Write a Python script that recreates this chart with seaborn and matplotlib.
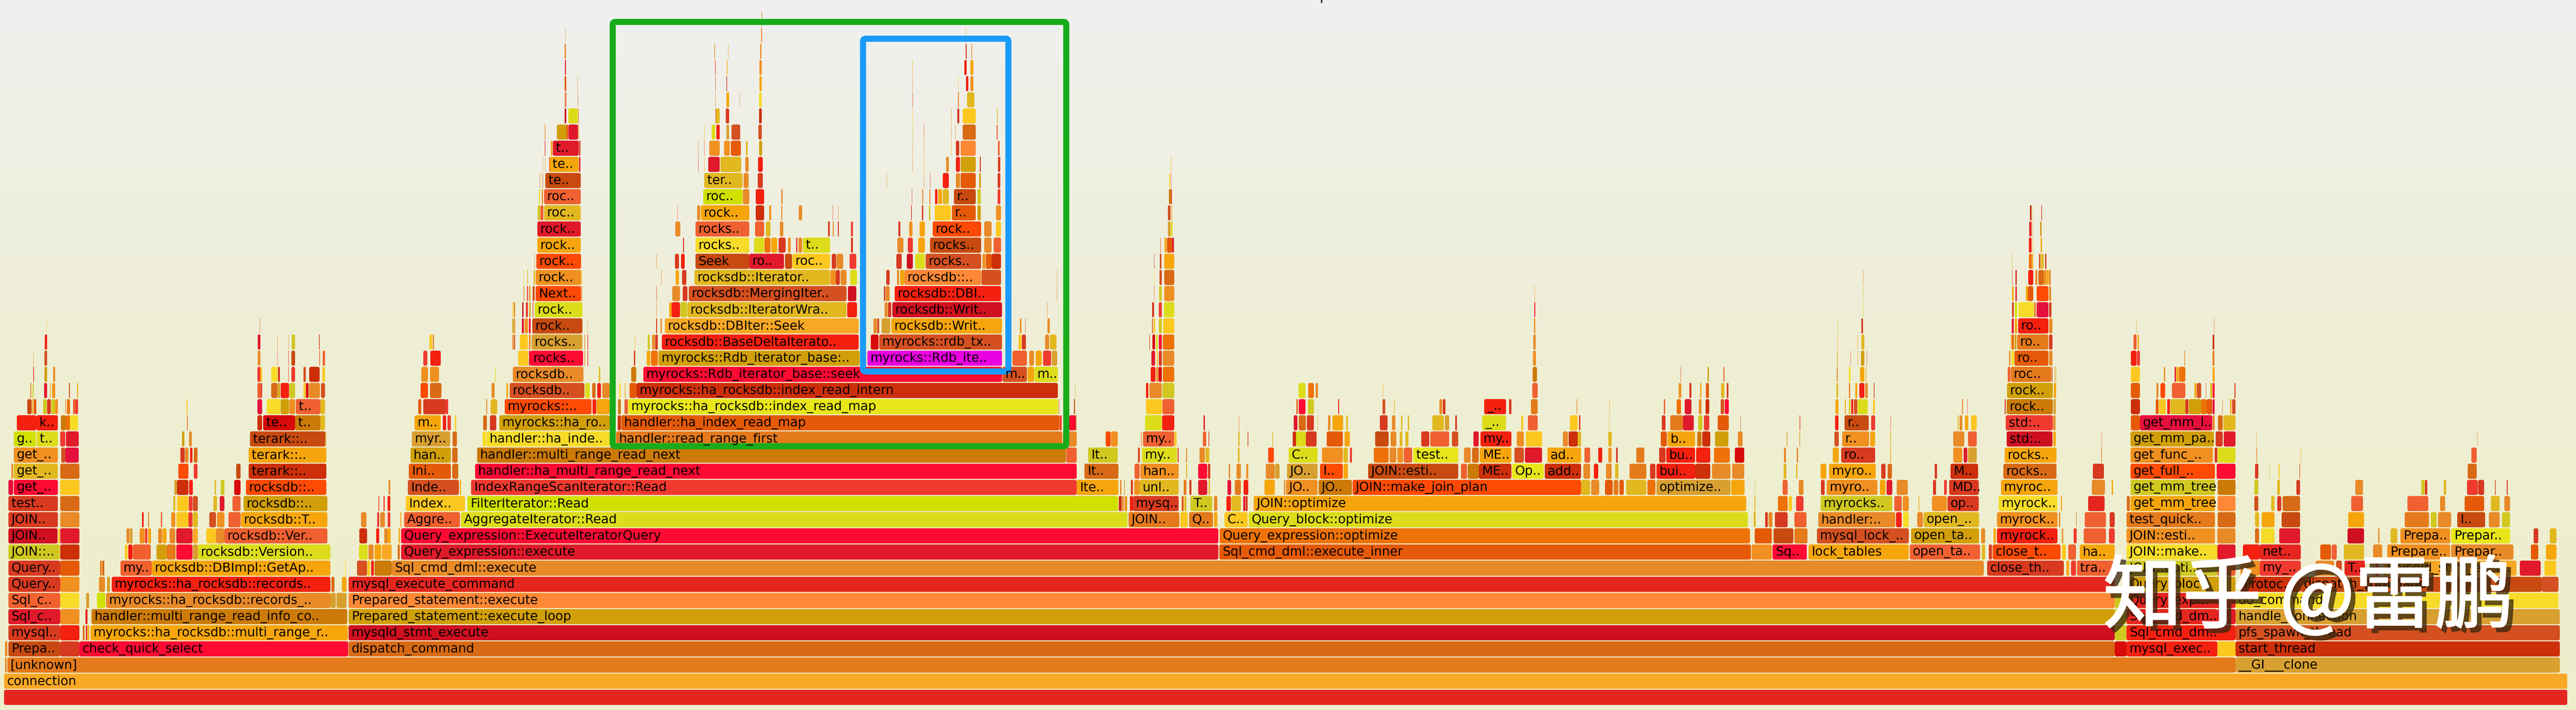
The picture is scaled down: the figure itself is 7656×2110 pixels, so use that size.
import numpy as np
import matplotlib
matplotlib.use("Agg")
import matplotlib.pyplot as plt
import matplotlib.patheffects as pe
from matplotlib.patches import FancyBboxPatch
import seaborn as sns

# heat shades used by the frames
heat = {
    "r1": "#e5261f", "r2": "#ff0a33", "r3": "#cf1020", "r4": "#cd2f0a", "r5": "#e01a2a",
    "r6": "#f42010", "r7": "#d83a20", "r8": "#f03a30", "r9": "#d80a0a", "p1": "#e6103c",
    "o1": "#d96a15", "o2": "#e57a1c", "o3": "#f9a825", "o4": "#fe8835", "o5": "#e88a28",
    "o6": "#e55a08", "o7": "#fd4a05", "o8": "#f06030", "o9": "#d55020", "o0": "#c84a10",
    "ok": "#cc7a08", "oa": "#f09020", "ob": "#ee7208",
    "y1": "#d19f0a", "y2": "#e8e618", "y3": "#d2e000", "y4": "#dcdc1a", "y5": "#e2b820",
    "y6": "#f6dc28", "y7": "#f6a60c", "y8": "#fcc820", "y9": "#d0c820", "y0": "#d8a030",
    "m1": "#e800e0",
}

# (level, start, stop, shade, label)
base_frames = [
    (0, 12, 7630, "r1"), (1, 12, 7630, "o3", "connection"),
    (2, 15, 20, "o5"), (2, 22, 6644, "o2", "[unknown]"), (2, 6644, 7608, "y0", "__GI___clone"),
    (3, 15, 22, "o5"), (3, 25, 179, "o0", "Prepa.."), (3, 179, 236, "r7"),
    (3, 236, 1035, "r2", "check_quick_select"), (3, 1036, 6285, "o1", "dispatch_command"),
    (3, 6285, 6320, "r9"), (3, 6320, 6590, "r6", "mysql_exec.."), (3, 6590, 6644, "y8"),
    (3, 6644, 7608, "r4", "start_thread"),
    (4, 25, 179, "r7", "mysql.."), (4, 179, 236, "r6"), (4, 246, 251, "o1"), (4, 255, 259, "r1"), (4, 260, 265, "y7"),
    (4, 269, 1034, "y7", "myrocks::ha_rocksdb::multi_range_r.."), (4, 1036, 6285, "r3", "mysqld_stmt_execute"),
    (4, 6285, 6320, "y9"), (4, 6320, 6644, "r6", "Sql_cmd_dm.."), (4, 6644, 7608, "o9", "pfs_spawn_thread"),
    (5, 25, 179, "r5", "Sql_c.."), (5, 179, 236, "oa"), (5, 254, 260, "r1"),
    (5, 272, 1032, "ok", "handler::multi_range_read_info_co.."), (5, 1036, 6285, "y1", "Prepared_statement::execute_loop"),
    (5, 6285, 6320, "y9"), (5, 6320, 6590, "r1", "Sql_cmd_dm.."), (5, 6590, 6644, "r5"), (5, 6644, 7608, "y0", "handle_connection"),
    (6, 25, 179, "o8", "Sql_c.."), (6, 179, 236, "y6"), (6, 256, 265, "y0"), (6, 288, 313, "y3"),
    (6, 315, 982, "o5", "myrocks::ha_rocksdb::records_.."), (6, 982, 998, "y0"), (6, 1000, 1030, "y0"),
    (6, 1036, 6285, "o4", "Prepared_statement::execute"), (6, 6285, 6320, "y9"),
    (6, 6320, 6644, "r1", "Query_expr.."), (6, 6644, 7604, "y6", "do_command"),
    (7, 25, 179, "r7", "Query.."), (7, 179, 236, "oa"), (7, 294, 312, "o5"), (7, 318, 327, "y0"),
    (7, 332, 982, "r6", "myrocks::ha_rocksdb::records.."), (7, 985, 994, "o1"), (7, 1016, 1030, "y7"),
    (7, 1036, 6285, "r1", "mysql_execute_command"), (7, 6320, 6644, "y1", "Query_bloc.."),
    (7, 6659, 6838, "r4", "Protoc.."), (7, 6838, 7554, "o0", "dispatch_command"), (7, 7554, 7604, "o9"),
    (8, 25, 179, "r7", "Query.."), (8, 179, 236, "o6"), (8, 297, 303, "o5"), (8, 304, 310, "o1"),
    (8, 358, 451, "o8", "my.."), (8, 451, 982, "y7", "rocksdb::DBImpl::GetAp.."), (8, 1026, 1028, "y6"),
    (8, 1061, 1091, "o9"), (8, 1092, 1100, "y8"), (8, 1103, 1111, "r6"), (8, 1113, 1164, "ok"),
    (8, 1164, 5896, "o5", "Sql_cmd_dml::execute"), (8, 5906, 6134, "r7", "close_th.."),
    (8, 6141, 6150, "o3"), (8, 6155, 6170, "r8"), (8, 6173, 6285, "o8", "tra.."), (8, 6320, 6590, "y9", "JOIN::opti.."),
    (8, 6590, 6644, "o8"), (8, 6659, 6716, "oa"), (8, 6716, 6838, "r8", "my_.."), (8, 6882, 6937, "o5"),
    (8, 6943, 6960, "o9"), (8, 6968, 7029, "r1", "T.."), (8, 7050, 7056, "oa"), (8, 7060, 7070, "r8"),
    (8, 7084, 7479, "o3", "mysqld_stmt_exec.."), (8, 7489, 7551, "r5"), (8, 7562, 7597, "y8"),
]

left_tower = [
    (9, 25, 178, "y9", "JOIN::.."), (9, 179, 236, "r4"), (10, 25, 171, "r3", "JOIN.."), (10, 173, 178, "y8"), (10, 179, 236, "r5"),
    (11, 25, 172, "r7", "JOIN.."), (11, 179, 236, "o5"), (12, 25, 172, "r7", "test.."), (12, 179, 236, "o1"),
    (13, 25, 39, "p1"), (13, 41, 172, "r2", "get_.."), (13, 179, 236, "y8"),
    (14, 34, 39, "o5"), (14, 41, 172, "y5", "get_.."), (14, 179, 236, "o1"),
    (15, 41, 172, "oa", "get_.."), (15, 182, 194, "o9"), (15, 194, 234, "p1"),
    (16, 41, 107, "y3", "g.."), (16, 109, 172, "y4", "t.."), (16, 179, 194, "r8"), (16, 196, 234, "r5"),
    (17, 50, 108, "r6"), (17, 108, 172, "r6", "k.."), (17, 181, 196, "ok"), (17, 196, 208, "ob"), (17, 208, 232, "y6"),
    (18, 81, 94, "o0"), (18, 95, 98, "y7"), (18, 100, 108, "o6"), (18, 128, 139, "y9"), (18, 140, 151, "r7"),
    (18, 152, 164, "y9"), (18, 164, 172, "oa"), (18, 194, 196, "o5"), (18, 199, 208, "ob"), (18, 217, 225, "o8"), (18, 225, 232, "r8"),
    (19, 90, 93, "o5"), (19, 97, 100, "y9"), (19, 131, 140, "r5"), (19, 149, 151, "y7"), (19, 155, 164, "oa"),
    (19, 205, 208, "o9"), (19, 229, 232, "y7"),
    (20, 99, 101, "r6"), (20, 132, 140, "y1"), (20, 158, 164, "o5"), (21, 99, 100, "y0"), (21, 132, 140, "o9"),
    (22, 133, 140, "r6"), (23, 138, 139, "y8"),
]

terark_tower = [
    (9, 371, 379, "y8"), (9, 381, 394, "r6"), (9, 395, 448, "o8"), (9, 465, 495, "y1"), (9, 495, 522, "o2"),
    (9, 524, 572, "r2"), (9, 573, 588, "y0"), (9, 588, 982, "y4", "rocksdb::Version.."),
    (10, 376, 385, "o5"), (10, 386, 394, "y0"), (10, 415, 430, "oa"), (10, 431, 438, "r8"), (10, 440, 449, "y7"),
    (10, 470, 482, "o5"), (10, 483, 495, "y7"), (10, 504, 521, "o5"), (10, 524, 572, "r5"), (10, 573, 588, "o3"),
    (10, 613, 642, "y8"), (10, 642, 667, "o5"), (10, 667, 973, "o8", "rocksdb::Ver.."),
    (11, 422, 427, "r6"), (11, 440, 443, "o5"), (11, 478, 482, "o8"), (11, 509, 521, "oa"), (11, 524, 560, "y8"),
    (11, 560, 572, "r8"), (11, 573, 588, "y5"), (11, 622, 642, "o9"), (11, 645, 667, "oa"), (11, 679, 715, "o8"),
    (11, 716, 973, "y7", "rocksdb::T.."),
    (12, 515, 521, "y5"), (12, 526, 560, "y8"), (12, 561, 572, "r8"), (12, 573, 588, "o9"), (12, 634, 645, "y5"),
    (12, 653, 667, "r5"), (12, 691, 715, "o8"), (12, 724, 973, "y1", "rocksdb::.."),
    (13, 518, 526, "y0"), (13, 526, 560, "r4"), (13, 562, 573, "r6"), (13, 638, 642, "y5"), (13, 656, 667, "y9"),
    (13, 696, 715, "r9"), (13, 731, 970, "o7", "rocksdb::.."),
    (14, 530, 560, "o7"), (14, 576, 587, "r8"), (14, 702, 715, "o0"), (14, 739, 970, "r4", "terark::.."),
    (15, 536, 549, "r7"), (15, 550, 560, "o5"), (15, 565, 572, "r6"), (15, 576, 587, "o1"), (15, 739, 970, "y7", "terark::.."),
    (16, 541, 548, "y1"), (16, 562, 570, "o5"), (16, 743, 967, "o0", "terark::.."), (16, 968, 970, "y5"),
    (17, 556, 558, "o6"), (17, 765, 779, "r4"), (17, 782, 877, "r9", "te.."), (17, 877, 952, "ok", "t.."), (17, 952, 966, "y5"),
    (18, 554, 557, "y8"), (18, 765, 779, "p1"), (18, 793, 833, "y6"), (18, 834, 859, "y1"), (18, 860, 877, "oa"),
    (18, 879, 952, "o8", "t.."), (18, 952, 966, "y5"),
    (19, 765, 775, "o8"), (19, 775, 779, "r8"), (19, 806, 825, "o1"), (19, 826, 832, "y1"), (19, 834, 859, "r6"),
    (19, 860, 877, "y9"), (19, 902, 908, "y8"), (19, 909, 917, "r9"), (19, 918, 951, "o5"), (19, 954, 966, "o9"),
    (20, 765, 774, "r8"), (20, 774, 779, "y8"), (20, 806, 825, "y6"), (20, 826, 832, "r7"), (20, 857, 858, "r6"),
    (20, 866, 877, "r8"), (20, 902, 909, "o9"), (20, 919, 950, "r4"), (20, 958, 966, "y8"),
    (21, 766, 774, "o5"), (21, 824, 825, "o8"), (21, 857, 858, "r6"), (21, 866, 877, "o0"), (21, 949, 951, "o8"), (21, 959, 966, "o8"),
    (22, 766, 774, "r5"), (22, 824, 825, "o5"), (22, 858, 859, "o5"), (22, 867, 877, "y9"), (22, 948, 950, "r7"), (23, 772, 773, "o7"),
    (9, 1067, 1093, "y4"), (9, 1095, 1110, "o5"), (9, 1113, 1133, "y7"), (9, 1135, 1164, "o3"),
    (10, 1068, 1091, "r4"), (10, 1118, 1127, "r6"), (10, 1142, 1152, "o5"), (10, 1152, 1161, "y7"),
    (11, 1073, 1089, "o5"), (11, 1121, 1127, "r8"), (11, 1130, 1144, "o5"), (11, 1152, 1160, "r8"),
    (12, 1125, 1127, "r6"), (12, 1140, 1143, "r6"), (12, 1152, 1160, "r6"), (13, 1155, 1160, "o5"),
]

rocks_tower = [
    (9, 1182, 1188, "o1"), (9, 1192, 3621, "r5", "Query_expression::execute"),
    (10, 1185, 1189, "y7"), (10, 1192, 3621, "r2", "Query_expression::ExecuteIteratorQuery"),
    (11, 1190, 1193, "o3"), (11, 1201, 1367, "o8", "Aggre.."), (11, 1370, 3351, "y4", "AggregateIterator::Read"),
    (12, 1206, 1382, "y8", "Index.."), (12, 1389, 3323, "y3", "FilterIterator::Read"),
    (13, 1212, 1364, "o9", "Inde.."), (13, 1367, 1370, "y7"), (13, 1400, 3200, "r8", "IndexRangeScanIterator::Read"),
    (14, 1215, 1340, "o6", "Ini.."), (14, 1344, 1362, "o1"), (14, 1412, 3200, "r2", "handler::ha_multi_range_read_next"),
    (15, 1220, 1340, "y1", "han.."), (15, 1344, 1360, "o1"), (15, 1418, 3168, "ok", "handler::multi_range_read_next"), (15, 3169, 3200, "o8"),
    (16, 1224, 1338, "y0", "myr.."), (16, 1345, 1358, "o1"), (16, 1434, 1445, "y6"), (16, 1446, 1812, "y6", "handler::ha_inde.."),
    (16, 1831, 3157, "o2", "handler::read_range_first"), (16, 3159, 3200, "o5"),
    (17, 1232, 1310, "y7", "m.."), (17, 1316, 1326, "r6"), (17, 1330, 1340, "r8"), (17, 1352, 1356, "y8"),
    (17, 1436, 1447, "o1"), (17, 1456, 1475, "r7"), (17, 1484, 1812, "y1", "myrocks::ha_ro.."),
    (18, 1243, 1252, "o6"), (18, 1258, 1325, "r7"), (18, 1325, 1332, "r8"), (18, 1445, 1448, "o5"), (18, 1458, 1478, "y5"),
    (18, 1500, 1758, "o7", "myrocks::.."), (18, 1761, 1772, "r6"), (18, 1773, 1812, "y7"),
    (19, 1250, 1272, "o7"), (19, 1278, 1312, "o1"), (19, 1461, 1470, "o5"), (19, 1505, 1510, "y7"),
    (19, 1515, 1737, "o9", "rocksdb.."), (19, 1739, 1753, "y4"), (19, 1760, 1770, "o1"), (19, 1775, 1786, "r6"), (19, 1790, 1812, "o5"),
    (20, 1252, 1272, "oa"), (20, 1278, 1305, "oa"), (20, 1472, 1474, "y4"), (20, 1524, 1734, "o5", "rocksdb.."), (20, 1780, 1784, "y5"),
    (21, 1550, 1556, "y5"), (21, 1258, 1270, "r8"), (21, 1279, 1310, "r6"), (21, 1540, 1570, "y8"),
    (21, 1572, 1576, "r5"), (21, 1576, 1733, "r2", "rocks.."), (21, 1737, 1739, "o5"), (21, 1746, 1748, "r8"),
    (22, 1276, 1284, "y8"), (22, 1523, 1527, "o5"), (22, 1528, 1531, "o9"), (22, 1545, 1569, "y8"), (22, 1572, 1577, "o5"),
    (22, 1580, 1731, "y0", "rocks.."), (22, 1737, 1739, "o5"), (22, 1746, 1748, "r8"), (22, 1286, 1290, "o5"),
    (23, 1523, 1527, "y1"), (23, 1528, 1531, "o5"), (23, 1551, 1557, "r5"), (23, 1559, 1569, "oa"), (23, 1572, 1577, "r2"),
    (23, 1582, 1731, "o0", "rock.."), (23, 1746, 1747, "y0"),
    (24, 1523, 1525, "y8"), (24, 1527, 1531, "o5"), (24, 1552, 1556, "r3"), (24, 1563, 1569, "r8"), (24, 1573, 1577, "y1"),
    (24, 1583, 1585, "r7"), (24, 1589, 1731, "y4", "rock.."),
    (25, 1556, 1558, "o5"), (25, 1566, 1569, "r8"), (25, 1572, 1574, "o8"), (25, 1575, 1577, "y5"), (25, 1583, 1589, "o9"),
    (25, 1592, 1727, "o7", "Next.."), (25, 1728, 1730, "o5"),
    (26, 1556, 1557, "y8"), (26, 1567, 1569, "y5"), (26, 1586, 1590, "y5"), (26, 1592, 1727, "oa", "rock.."), (26, 1728, 1730, "y8"),
    (27, 1589, 1590, "o5"), (27, 1594, 1727, "o7", "rock.."),
    (28, 1597, 1726, "y7", "rock.."), (29, 1597, 1726, "r5", "rock.."),
    (30, 1598, 1605, "y9"), (30, 1606, 1615, "o8"), (30, 1617, 1726, "y5", "roc.."),
    (31, 1602, 1605, "y4"), (31, 1610, 1614, "oa"), (31, 1617, 1726, "o8", "roc.."),
    (32, 1604, 1605, "o8"), (32, 1608, 1609, "y8"), (32, 1613, 1614, "r7"), (32, 1620, 1621, "y5"), (32, 1621, 1726, "o0", "te.."),
    (33, 1613, 1614, "y0"), (33, 1620, 1621, "o5"), (33, 1632, 1633, "r5"), (33, 1633, 1720, "y7", "te.."), (33, 1721, 1725, "r5"),
    (34, 1619, 1621, "r8"), (34, 1637, 1642, "o3"), (34, 1643, 1720, "r5", "t.."), (34, 1721, 1725, "r7"),
    (35, 1619, 1621, "o5"), (35, 1655, 1683, "y1"), (35, 1683, 1688, "o6"), (35, 1689, 1718, "r5"), (35, 1719, 1721, "y5"),
    (36, 1678, 1683, "r3"), (36, 1689, 1718, "y4"), (36, 1719, 1720, "r1"),
    (37, 1678, 1680, "o5"), (37, 1681, 1683, "r7"), (37, 1717, 1718, "o8"), (38, 1678, 1683, "o6"), (38, 1716, 1717, "y0"),
    (39, 1679, 1682, "r5"), (40, 1678, 1682, "o5"), (41, 1680, 1681, "y0"),
]

green_box_frames = [
    (17, 1836, 1845, "r4"), (17, 1846, 3149, "o6", "handler::ha_index_read_map"), (17, 3150, 3155, "r6"), (17, 3178, 3197, "r9"),
    (18, 1837, 1845, "ok"), (18, 1856, 1866, "o8"), (18, 1867, 3144, "y2", "myrocks::ha_rocksdb::index_read_map"), (18, 3146, 3148, "o5"), (18, 3192, 3195, "r7"),
    (19, 1841, 1845, "y6"), (19, 1857, 1859, "y7"), (19, 1871, 1892, "o6"), (19, 1892, 3144, "r4", "myrocks::ha_rocksdb::index_read_intern"), (19, 3195, 3196, "y0"),
    (20, 1876, 1891, "ok"), (20, 1912, 2978, "r2", "myrocks::Rdb_iterator_base::seek"), (20, 2979, 3052, "o9", "m.."), (20, 3054, 3073, "y7"), (20, 3074, 3144, "y4", "m.."),
    (21, 1884, 1888, "r7"), (21, 1922, 1933, "y7"), (21, 1935, 1955, "ob"), (21, 1957, 2555, "y1", "myrocks::Rdb_iterator_base:.."),
    (21, 2559, 2575, "y5"), (21, 2578, 2978, "m1", "myrocks::Rdb_ite.."), (21, 3009, 3052, "o8"), (21, 3059, 3073, "o5"), (21, 3078, 3096, "y7"),
    (21, 3100, 3124, "r8"), (21, 3126, 3142, "y0"),
    (22, 1887, 1888, "y7"), (22, 1925, 1931, "y9"), (22, 1938, 1946, "o5"), (22, 1947, 1955, "r7"), (22, 1967, 2552, "r6", "rocksdb::BaseDeltaIterato.."),
    (22, 2588, 2611, "r9"), (22, 2613, 2978, "o9", "myrocks::rdb_tx.."), (22, 3027, 3036, "y8"), (22, 3037, 3049, "r7"), (22, 3106, 3118, "o5"), (22, 3120, 3140, "y5"),
    (23, 1950, 1953, "r7"), (23, 1963, 1967, "o5"), (23, 1976, 2552, "o3", "rocksdb::DBIter::Seek"), (23, 2596, 2606, "o5"), (23, 2607, 2613, "o9"),
    (23, 2620, 2646, "y0"), (23, 2649, 2978, "y7", "rocksdb::Writ.."), (23, 3031, 3036, "oa"), (23, 3047, 3048, "r7"), (23, 3113, 3120, "o5"),
    (24, 1951, 1952, "o5"), (24, 1989, 1996, "y7"), (24, 1996, 2021, "r6"), (24, 2022, 2042, "y9"), (24, 2043, 2516, "y5", "rocksdb::IteratorWra.."),
    (24, 2518, 2547, "r6"), (24, 2629, 2638, "o5"), (24, 2639, 2649, "r7"), (24, 2652, 2978, "r3", "rocksdb::Writ.."), (24, 3112, 3113, "o5"),
    (25, 1951, 1952, "r7"), (25, 1998, 2021, "o5"), (25, 2029, 2043, "r7"), (25, 2047, 2516, "o9", "rocksdb::MergingIter.."), (25, 2520, 2545, "r3"),
    (25, 2627, 2631, "r7"), (25, 2632, 2644, "o5"), (25, 2659, 2975, "r6", "rocksdb::DBI.."), (25, 3141, 3142, "o5"),
    (26, 1965, 1966, "o5"), (26, 2008, 2018, "y7"), (26, 2027, 2040, "r7"), (26, 2064, 2467, "y5", "rocksdb::Iterator.."), (26, 2468, 2484, "oa"),
    (26, 2484, 2496, "r7"), (26, 2498, 2516, "o5"), (26, 2527, 2547, "y4"), (26, 2634, 2644, "r7"), (26, 2666, 2672, "o5"), (26, 2675, 2688, "y7"),
    (26, 2688, 2916, "o4", "rocksdb::.."), (26, 2917, 2975, "o9"), (26, 3141, 3142, "y0"),
    (27, 1951, 1952, "o5"), (27, 2006, 2018, "r7"), (27, 2024, 2035, "r6"), (27, 2067, 2227, "o0", "Seek"), (27, 2227, 2330, "r5", "ro.."),
    (27, 2333, 2354, "o0"), (27, 2355, 2467, "y8", "roc.."), (27, 2472, 2485, "r7"), (27, 2486, 2506, "o5"), (27, 2525, 2545, "r8"),
    (27, 2664, 2680, "r7"), (27, 2695, 2713, "r3"), (27, 2720, 2749, "y4"), (27, 2751, 2916, "o9", "rocks.."), (27, 2920, 2929, "oa"),
    (27, 2930, 2947, "o6"), (27, 2947, 2975, "r4"),
    (28, 2030, 2033, "r7"), (28, 2067, 2227, "y6", "rocks.."), (28, 2241, 2271, "y4"), (28, 2272, 2290, "ob"), (28, 2292, 2310, "y7"),
    (28, 2314, 2335, "r7"), (28, 2342, 2350, "oa"), (28, 2366, 2370, "r8"), (28, 2373, 2384, "o5"), (28, 2386, 2467, "y4", "t.."),
    (28, 2529, 2535, "r7"), (28, 2667, 2685, "o5"), (28, 2698, 2713, "r8"), (28, 2729, 2749, "y7"), (28, 2764, 2916, "o0", "rocks.."),
    (28, 2925, 2947, "o5"), (28, 2953, 2975, "o8"),
    (29, 2007, 2022, "o5"), (29, 2067, 2227, "o8", "rocks.."), (29, 2244, 2271, "o8"), (29, 2276, 2290, "y5"), (29, 2318, 2328, "o5"),
    (29, 2461, 2466, "r7"), (29, 2475, 2478, "o5"), (29, 2490, 2493, "r7"), (29, 2529, 2535, "r8"), (29, 2670, 2676, "r7"), (29, 2702, 2712, "oa"),
    (29, 2733, 2749, "y7"), (29, 2772, 2916, "o7", "rock.."), (29, 2925, 2947, "o5"), (29, 2960, 2975, "y8"),
    (30, 2013, 2014, "o8"), (30, 2072, 2081, "o5"), (30, 2083, 2227, "y7", "rock.."), (30, 2246, 2271, "r4"), (30, 2286, 2292, "oa"), (30, 2322, 2325, "o5"),
    (30, 2374, 2384, "o5"), (30, 2475, 2476, "r7"), (30, 2491, 2492, "o5"), (30, 2708, 2710, "r7"), (30, 2740, 2744, "r7"), (30, 2761, 2765, "y9"),
    (30, 2778, 2826, "y8"), (30, 2829, 2900, "o6", "r.."), (30, 2905, 2915, "y1"), (30, 2960, 2975, "oa"),
    (31, 2090, 2207, "y3", "roc.."), (31, 2208, 2227, "o5"), (31, 2246, 2271, "r6"), (31, 2322, 2326, "o5"), (31, 2710, 2711, "r7"), (31, 2741, 2744, "o5"),
    (31, 2762, 2765, "o5"), (31, 2779, 2786, "r6"), (31, 2788, 2800, "y7"), (31, 2802, 2820, "y5"), (31, 2835, 2900, "o0", "r.."), (31, 2905, 2915, "y9"), (31, 2965, 2973, "r8"),
    (32, 2093, 2207, "y5", "ter.."), (32, 2210, 2225, "o5"), (32, 2252, 2267, "r7"), (32, 2635, 2636, "y0"), (32, 2746, 2747, "o5"), (32, 2764, 2765, "r7"),
    (32, 2802, 2820, "r6"), (32, 2841, 2853, "o5"), (32, 2855, 2900, "o6"), (32, 2910, 2915, "y1"), (32, 2965, 2973, "r7"),
    (33, 2075, 2076, "r7"), (33, 2093, 2094, "y5"), (33, 2105, 2139, "r5"), (33, 2141, 2203, "y5"), (33, 2215, 2225, "o5"), (33, 2253, 2267, "r6"),
    (33, 2712, 2713, "o5"), (33, 2746, 2747, "y5"), (33, 2812, 2820, "o5"), (33, 2841, 2853, "r6"), (33, 2855, 2900, "y1"), (33, 2912, 2915, "r7"), (33, 2966, 2973, "r7"),
    (34, 2075, 2076, "o5"), (34, 2093, 2094, "o8"), (34, 2108, 2139, "oa"), (34, 2152, 2169, "oa"), (34, 2172, 2202, "o6"), (34, 2217, 2222, "y5"),
    (34, 2256, 2265, "y1"), (34, 2712, 2713, "y0"), (34, 2746, 2747, "o5"), (34, 2827, 2828, "y5"), (34, 2841, 2851, "r7"), (34, 2855, 2900, "o4"), (34, 2966, 2971, "o8"),
    (35, 2093, 2094, "y5"), (35, 2115, 2126, "y4"), (35, 2129, 2139, "r6"), (35, 2159, 2167, "y0"), (35, 2174, 2200, "o9"), (35, 2254, 2264, "o9"),
    (35, 2712, 2713, "y9"), (35, 2746, 2747, "o8"), (35, 2827, 2828, "o5"), (35, 2839, 2840, "o5"), (35, 2861, 2900, "o1"), (35, 2962, 2965, "o8"),
    (36, 2126, 2129, "o5"), (36, 2129, 2139, "y5"), (36, 2157, 2167, "r7"), (36, 2256, 2264, "r4"), (36, 2712, 2713, "y8"), (36, 2827, 2828, "o5"),
    (36, 2845, 2851, "r7"), (36, 2861, 2900, "y8"), (36, 2963, 2965, "y5"),
    (37, 2126, 2127, "o5"), (37, 2159, 2167, "y7"), (37, 2198, 2199, "y0"), (37, 2256, 2264, "y6"), (37, 2712, 2713, "r7"), (37, 2847, 2850, "o5"), (37, 2874, 2896, "y5"),
    (38, 2126, 2127, "r7"), (38, 2159, 2161, "r7"), (38, 2257, 2264, "y7"), (38, 2712, 2713, "o5"), (38, 2848, 2849, "y8"),
    (38, 2871, 2878, "r6"), (38, 2884, 2893, "oa"),
    (39, 2125, 2127, "o8"), (39, 2160, 2162, "y7"), (39, 2257, 2264, "oa"), (39, 2712, 2713, "y5"), (39, 2866, 2873, "r6"), (39, 2884, 2893, "y7"),
    (40, 2123, 2125, "y0"), (40, 2164, 2165, "y7"), (40, 2259, 2263, "oa"), (40, 2870, 2873, "r7"), (40, 2887, 2889, "o5"),
    (41, 2262, 2265, "o4"), (41, 2870, 2871, "y5"), (42, 2263, 2265, "y0"),
]

middle_frames = [
    (13, 3200, 3324, "y7", "Ite.."), (14, 3223, 3324, "o1", "It.."), (15, 3234, 3322, "y9", "It.."),
    (16, 3286, 3301, "o7"), (16, 3302, 3322, "oa"), (17, 3178, 3195, "r2"), (17, 3196, 3199, "o9"), (18, 3192, 3195, "o0"), (19, 3195, 3196, "y0"),
    (12, 3325, 3334, "r4"), (12, 3335, 3340, "o5"), (12, 3342, 3350, "oa"), (13, 3329, 3333, "o5"), (13, 3341, 3343, "y0"),
    (12, 3358, 3367, "r6"), (12, 3367, 3503, "r7", "mysq.."), (13, 3361, 3367, "r7"), (13, 3371, 3387, "oa"), (13, 3387, 3503, "y5", "unl.."),
    (14, 3372, 3387, "o8"), (14, 3389, 3503, "oa", "han.."), (15, 3382, 3388, "o9"), (15, 3394, 3498, "y4", "my.."), (15, 3500, 3503, "r7"),
    (16, 3397, 3490, "o8", "my.."), (16, 3391, 3393, "o5"), (16, 3491, 3497, "y8"),
    (17, 3403, 3453, "y4"), (17, 3454, 3490, "r6"), (18, 3406, 3454, "y8"), (18, 3455, 3490, "o8"),
    (19, 3406, 3413, "r6"), (19, 3416, 3453, "o5"), (19, 3455, 3490, "y9"),
    (20, 3420, 3434, "r6"), (20, 3436, 3442, "oa"), (20, 3443, 3453, "r9"), (20, 3456, 3490, "ob"),
    (21, 3422, 3433, "r5"), (21, 3438, 3441, "y8"), (21, 3444, 3453, "r7"), (21, 3456, 3490, "o5"),
    (22, 3416, 3418, "o8"), (22, 3425, 3433, "r9"), (22, 3436, 3441, "y4"), (22, 3444, 3453, "r2"), (22, 3456, 3490, "ob"),
    (23, 3424, 3426, "r7"), (23, 3428, 3433, "y8"), (23, 3444, 3453, "y9"), (23, 3457, 3490, "y8"),
    (24, 3424, 3430, "r7"), (24, 3444, 3453, "r8"), (24, 3459, 3490, "y4"),
    (25, 3430, 3431, "o8"), (25, 3445, 3453, "y9"), (25, 3460, 3490, "oa"),
    (26, 3430, 3431, "y6"), (26, 3446, 3453, "o9"), (26, 3460, 3490, "o1"),
    (27, 3430, 3431, "r7"), (27, 3447, 3452, "o9"), (27, 3460, 3490, "y7"),
    (28, 3449, 3450, "r6"), (28, 3461, 3467, "y7"), (28, 3468, 3484, "o6"), (28, 3484, 3489, "r5"),
    (29, 3471, 3479, "y0"), (29, 3480, 3485, "y4"), (30, 3471, 3479, "o9"), (30, 3482, 3484, "y7"),
    (31, 3474, 3481, "ok"), (31, 3481, 3483, "r7"), (32, 3475, 3478, "y6"), (32, 3480, 3481, "r8"), (33, 3480, 3481, "y7"),
    (11, 3354, 3505, "o2", "JOIN.."), (11, 3508, 3530, "y8"), (11, 3534, 3605, "o2", "Q.."), (11, 3608, 3618, "y7"),
    (12, 3512, 3518, "o6"), (12, 3520, 3526, "y5"), (12, 3538, 3603, "y9", "T.."), (12, 3608, 3618, "o5"),
    (13, 3518, 3526, "o2"), (13, 3535, 3541, "r7"), (13, 3561, 3588, "r5"), (13, 3592, 3596, "y5"),
    (14, 3525, 3528, "y5"), (14, 3561, 3588, "r2"), (14, 3590, 3597, "r7"),
    (15, 3525, 3528, "o5"), (15, 3565, 3581, "o5"), (15, 3583, 3594, "y5"), (16, 3575, 3585, "o8"), (16, 3592, 3594, "r7"),
    (17, 3577, 3581, "r5"), (14, 3652, 3656, "o5"), (14, 3675, 3688, "o5"), (14, 3704, 3710, "oa"), (15, 3679, 3684, "y5"),
    (16, 3680, 3684, "y5"), (16, 3708, 3710, "r7"), (17, 3682, 3683, "o8"), (16, 3782, 3784, "y5"),
    (11, 3639, 3708, "y8", "C.."), (11, 3711, 5195, "y4", "Query_block::optimize"),
    (10, 3625, 5201, "ob", "Query_expression::optimize"), (9, 3624, 5204, "o6", "Sql_cmd_dml::execute_inner"),
    (12, 3645, 3658, "r6"), (12, 3659, 3688, "y5"), (12, 3695, 3701, "r5"), (12, 3702, 3708, "r7"), (12, 3726, 5190, "y7", "JOIN::optimize"),
    (13, 3648, 3659, "p1"), (13, 3670, 3688, "o2"), (13, 3696, 3710, "r6"), (13, 3758, 3789, "y7"), (13, 3816, 3820, "o5"),
    (13, 3822, 3916, "oa", "JO.."), (13, 3919, 4018, "ok", "JO.."), (13, 4020, 4699, "o7", "JOIN::make_join_plan"),
    (13, 4699, 4726, "y5"), (13, 4729, 4753, "o5"), (13, 4770, 4793, "o6"), (13, 4796, 4810, "o2"), (13, 4813, 4826, "o6"),
    (13, 4833, 4893, "y5"), (13, 4896, 4920, "ob"), (13, 4923, 5143, "y0", "optimize.."), (13, 5145, 5185, "y7"),
    (14, 3762, 3789, "o5"), (14, 3790, 3803, "y0"), (14, 3825, 3916, "y0", "JO.."), (14, 3923, 3991, "o7", "I.."), (14, 3993, 4006, "y7"),
    (14, 4066, 4334, "o0", "JOIN::esti.."), (14, 4342, 4360, "o8"), (14, 4362, 4395, "ok"), (14, 4395, 4492, "r4", "ME.."),
    (14, 4494, 4588, "y2", "Op.."), (14, 4591, 4699, "r4", "add.."), (14, 4706, 4726, "o5"), (14, 4737, 4750, "r6"),
    (14, 4773, 4790, "o5"), (14, 4800, 4810, "y5"), (14, 4843, 4893, "o2"), (14, 4904, 4920, "r7"), (14, 4923, 5038, "r6", "bui.."),
    (14, 5038, 5083, "r4"), (14, 5088, 5143, "o5"), (14, 5148, 5184, "o5"),
    (15, 3769, 3786, "o7"), (15, 3830, 3916, "y4", "C.."), (15, 3929, 3991, "oa"), (15, 3993, 4006, "y5"), (15, 4012, 4018, "r8"),
    (15, 4083, 4127, "ob"), (15, 4130, 4150, "o5"), (15, 4153, 4170, "oa"), (15, 4172, 4197, "o8"), (15, 4200, 4334, "y2", "test.."),
    (15, 4351, 4371, "o5"), (15, 4375, 4395, "o1"), (15, 4398, 4492, "y7", "ME.."), (15, 4501, 4529, "o9"), (15, 4532, 4583, "r5"),
    (15, 4599, 4699, "y7", "ad.."), (15, 4709, 4726, "o8"), (15, 4750, 4762, "r6"), (15, 4780, 4790, "oa"), (15, 4803, 4808, "r7"),
    (15, 4863, 4887, "o2"), (15, 4931, 4950, "r7"), (15, 4952, 5038, "r6", "bu.."), (15, 5041, 5083, "r6"), (15, 5094, 5141, "ob"), (15, 5156, 5184, "r9"),
    (16, 3842, 3852, "r4"), (16, 3852, 3881, "y4"), (16, 3881, 3913, "r7"), (16, 3943, 3991, "o6"), (16, 3996, 4012, "y7"),
    (16, 4087, 4127, "o0"), (16, 4133, 4150, "o5"), (16, 4160, 4168, "y5"), (16, 4177, 4186, "y5"), (16, 4224, 4248, "r7"), (16, 4251, 4307, "o8"),
    (16, 4315, 4334, "o9"), (16, 4379, 4395, "r5"), (16, 4400, 4492, "r6", "my.."), (16, 4508, 4529, "oa"), (16, 4535, 4583, "y8"),
    (16, 4645, 4660, "o5"), (16, 4662, 4689, "r4"), (16, 4689, 4699, "y5"), (16, 4780, 4790, "y5"), (16, 4936, 4954, "o6"), (16, 4956, 5038, "y7", "b.."),
    (16, 5044, 5057, "ok"), (16, 5059, 5083, "r4"), (16, 5097, 5137, "y1"), (16, 5165, 5179, "o5"),
    (17, 3845, 3856, "r5"), (17, 3860, 3881, "o1"), (17, 3884, 3905, "r7"), (17, 3916, 3917, "y0"),
    (17, 3947, 3954, "o5"), (17, 3960, 3992, "y7"), (17, 4001, 4006, "y5"), (17, 4101, 4124, "r7"), (17, 4137, 4147, "o5"),
    (17, 4164, 4168, "y5"), (17, 4184, 4188, "y5"), (17, 4257, 4291, "y5"), (17, 4294, 4307, "y0"), (17, 4325, 4330, "r7"),
    (17, 4405, 4476, "y4", "_.."), (17, 4521, 4527, "y8"), (17, 4541, 4570, "o8"), (17, 4666, 4689, "y8"), (17, 4693, 4697, "r7"), (17, 4782, 4783, "y5"),
    (17, 4939, 4950, "r7"), (17, 4964, 5002, "o2"), (17, 5002, 5034, "r5"), (17, 5047, 5060, "y9"), (17, 5064, 5080, "r8"), (17, 5105, 5138, "o6"),
    (17, 5173, 5174, "r7"), (17, 5350, 5351, "r8"), (17, 5454, 5464, "r6"), (17, 5482, 5554, "o0", "r.."), (17, 5561, 5573, "r8"), (17, 5619, 5620, "r8"),
    (18, 3853, 3857, "o6"), (18, 3860, 3880, "r2"), (18, 3887, 3905, "y9"), (18, 3977, 3980, "r6"), (18, 4109, 4117, "o9"), (18, 4143, 4145, "y5"),
    (18, 4278, 4286, "o5"), (18, 4288, 4296, "r7"), (18, 4411, 4476, "r6", "_.."), (18, 4485, 4492, "r7"),
    (18, 4783, 4784, "y7"), (18, 4550, 4570, "o2"), (18, 4686, 4688, "o5"), (18, 4945, 4949, "o8"),
    (18, 4983, 4996, "ob"), (18, 5007, 5027, "r5"), (18, 5049, 5057, "o5"), (18, 5069, 5080, "r4"), (18, 5114, 5124, "o9"), (18, 5126, 5138, "r2"),
    (18, 5455, 5464, "y7"), (18, 5483, 5486, "y7"), (18, 5495, 5500, "y9"), (18, 5502, 5508, "r6"), (18, 5510, 5520, "o9"), (18, 5521, 5551, "y4"), (18, 5567, 5572, "y8"),
    (19, 3859, 3880, "y4"), (19, 3888, 3905, "ob"), (19, 3910, 3917, "o5"), (19, 4110, 4111, "y7"), (19, 4554, 4570, "o8"), (19, 4989, 4997, "oa"), (19, 5021, 5027, "r7"),
    (19, 5053, 5057, "y7"), (19, 5070, 5079, "o6"), (19, 5115, 5125, "y5"), (19, 5132, 5137, "r7"), (19, 5458, 5463, "y5"), (19, 5495, 5499, "o5"),
    (19, 5514, 5520, "y7"), (19, 5526, 5541, "r6"), (19, 5543, 5551, "o5"), (19, 5569, 5571, "r7"),
    (20, 4555, 4568, "ok"), (20, 4995, 4996, "r7"), (20, 5075, 5079, "y1"), (20, 5122, 5125, "o8"), (20, 5459, 5462, "o5"), (20, 5495, 5500, "y6"), (20, 5528, 5541, "y7"), (20, 5545, 5547, "y5"),
    (21, 4556, 4565, "oa"), (21, 5460, 5462, "y5"), (21, 5500, 5501, "o8"), (21, 5521, 5522, "o5"), (21, 5531, 5541, "y1"), (21, 5548, 5549, "r7"),
    (22, 4557, 4564, "o5"), (22, 5461, 5462, "y7"), (22, 5520, 5521, "y7"), (22, 5532, 5541, "y5"),
    (23, 4559, 4563, "oa"), (23, 5461, 5462, "y9"), (23, 5532, 5537, "r7"), (24, 4560, 4563, "r2"), (24, 5537, 5538, "y4"),
    (25, 4561, 4562, "y7"), (25, 5537, 5538, "y9"), (26, 5537, 5538, "o5"),
    (10, 5215, 5266, "o6"), (10, 5271, 5330, "o0"), (10, 5333, 5372, "o2"),
    (9, 5206, 5266, "oa"), (9, 5268, 5370, "r2", "Sq.."), (9, 5375, 5673, "y7", "lock_tables"),
    (11, 5212, 5218, "y5"), (11, 5246, 5254, "r7"), (11, 5256, 5268, "o5"), (11, 5275, 5313, "r7"), (11, 5333, 5369, "o8"),
    (12, 5214, 5217, "y5"), (12, 5284, 5313, "ob"), (12, 5316, 5326, "y8"), (12, 5338, 5360, "r8"),
    (13, 5216, 5217, "y5"), (13, 5298, 5313, "o8"), (13, 5346, 5360, "o5"), (14, 5301, 5309, "y5"), (14, 5338, 5342, "y5"),
    (15, 5302, 5308, "o5"), (15, 5340, 5344, "o5"), (16, 5310, 5312, "y0"), (16, 5348, 5350, "y0"), (17, 5348, 5349, "r7"),
]

right_frames = [
    (10, 5400, 5673, "o9", "mysql_lock_.."), (10, 5680, 5882, "y1", "open_ta.."), (10, 5888, 5900, "o5"), (10, 5925, 5932, "y7"), (10, 5935, 6115, "r6", "myrock.."), (10, 6128, 6132, "o5"), (10, 6163, 6172, "r8"),
    (10, 6193, 6259, "o8"), (10, 6268, 6285, "r8"),
    (9, 5676, 5885, "o8", "open_ta.."), (9, 5890, 5900, "y5"), (9, 5911, 5920, "r7"), (9, 5922, 6124, "o7", "close_t.."), (9, 6128, 6140, "y8"), (9, 6147, 6170, "o8"),
    (9, 6181, 6285, "y7", "ha.."),
    (11, 5404, 5633, "o5", "handler:.."), (11, 5635, 5652, "r6"), (11, 5656, 5673, "y6"), (11, 5698, 5715, "o5"), (11, 5717, 5882, "y5", "open_.."),
    (11, 5935, 6115, "oa", "myrock.."), (11, 6119, 6123, "o5"), (11, 6170, 6172, "y0"), (11, 6196, 6259, "o8"), (11, 6270, 6285, "r7"),
    (12, 5411, 5624, "y9", "myrocks.."), (12, 5630, 5652, "o8"), (12, 5655, 5673, "oa"), (12, 5702, 5704, "y7"), (12, 5742, 5786, "oa"), (12, 5788, 5881, "r7", "op.."),
    (12, 5940, 6115, "y6", "myrock.."), (12, 6125, 6128, "y7"), (12, 6206, 6255, "r1"),
    (13, 5412, 5423, "r7"), (13, 5429, 5580, "oa", "myro.."), (13, 5587, 5604, "y7"), (13, 5607, 5624, "r5"), (13, 5637, 5670, "o5"), (13, 5745, 5754, "r7"),
    (13, 5778, 5786, "r8"), (13, 5793, 5881, "r7", "MD.."), (13, 5947, 6115, "y7", "myroc.."), (13, 6217, 6256, "o5"), (13, 6276, 6280, "y7"),
    (14, 5411, 5428, "y7"), (14, 5436, 5575, "y7", "myro.."), (14, 5591, 5604, "r7"), (14, 5610, 5623, "o1"), (14, 5750, 5757, "r7"), (14, 5797, 5879, "r4", "M.."),
    (14, 5954, 6112, "o1", "rocks.."), (14, 6220, 6253, "r7"),
    (15, 5447, 5465, "y7"), (15, 5472, 5573, "r7", "ro.."), (15, 5618, 5620, "y7"), (15, 5805, 5832, "oa"), (15, 5836, 5847, "r5"), (15, 5849, 5875, "y0"),
    (15, 5958, 6112, "y7", "rocks.."), (15, 6245, 6247, "o5"),
    (16, 5452, 5465, "o9"), (16, 5475, 5555, "oa", "r.."), (16, 5558, 5573, "y7"), (16, 5618, 5620, "y5"), (16, 5805, 5838, "o5"), (16, 5849, 5875, "o8"),
    (16, 5964, 6100, "r3", "std:.."), (16, 6102, 6110, "y7"), (16, 6246, 6247, "o8"),
    (17, 5824, 5832, "o5"), (17, 5858, 5875, "y8"), (17, 5818, 5821, "y5"), (17, 5840, 5850, "y7"),
    (18, 5831, 5834, "o5"), (18, 5847, 5848, "r8"),
    (17, 5961, 6101, "r8", "std:.."), (17, 6102, 6109, "o5"),
    (18, 5958, 5961, "r7"), (18, 5964, 6101, "ok", "rock.."), (18, 6103, 6110, "y0"),
    (19, 5965, 6101, "y1", "rock.."), (19, 6104, 6111, "y7"),
    (20, 5967, 5975, "o8"), (20, 5976, 6097, "o2", "roc.."), (20, 6098, 6100, "r7"), (20, 6106, 6107, "o5"), (20, 6109, 6111, "y5"),
    (21, 5971, 5975, "o5"), (21, 5978, 5986, "y6"), (21, 5987, 6088, "o6", "ro.."), (21, 6090, 6100, "o5"),
    (22, 5975, 5976, "y5"), (22, 5978, 5986, "ob"), (22, 5988, 5993, "y1"), (22, 5995, 6088, "o2", "ro.."), (22, 6090, 6100, "r7"),
    (23, 5979, 5985, "r5"), (23, 5988, 5995, "y7"), (23, 5998, 6088, "r6", "ro.."), (23, 6090, 6100, "o5"),
    (24, 5980, 5985, "r7"), (24, 5988, 5995, "y3"), (24, 5999, 6044, "y6"), (24, 6045, 6051, "o5"), (24, 6053, 6088, "p1"), (24, 6090, 6097, "r7"),
    (25, 5980, 5985, "y7"), (25, 5990, 5994, "r5"), (25, 6021, 6027, "y7"), (25, 6027, 6043, "o6"), (25, 6053, 6088, "o7"), (25, 6090, 6096, "o5"),
    (26, 5980, 5981, "r7"), (26, 5990, 5994, "r7"), (26, 6028, 6043, "r6"), (26, 6049, 6055, "o5"), (26, 6058, 6074, "o1"), (26, 6074, 6082, "oa"), (26, 6083, 6089, "y7"), (26, 6090, 6095, "o5"),
    (27, 5980, 5981, "y5"), (27, 6030, 6039, "ob"), (27, 6040, 6043, "y7"), (27, 6060, 6064, "o9"), (27, 6065, 6074, "y5"), (27, 6078, 6082, "r7"),
    (28, 6030, 6038, "r6"), (28, 6041, 6042, "y7"), (28, 6065, 6069, "y7"),
    (29, 6031, 6038, "r1"), (29, 6041, 6042, "o5"), (29, 6063, 6068, "y0"), (30, 6033, 6038, "r4"), (30, 6042, 6043, "y5"), (30, 6067, 6069, "r7"),
    (10, 6320, 6583, "oa", "JOIN::esti.."), (10, 6590, 6644, "o5"),
    (9, 6320, 6590, "y6", "JOIN::make.."), (9, 6590, 6644, "r5"), (9, 6666, 6716, "r6"), (9, 6716, 6838, "r1", "net.."),
    (9, 6896, 6928, "o6"), (9, 6930, 6945, "o8"), (9, 6966, 7026, "y5"), (9, 7053, 7080, "o5"),
    (9, 7095, 7282, "oa", "Prepare.."), (9, 7285, 7470, "o5", "Prepar.."), (9, 7522, 7544, "o6"), (9, 7567, 7598, "y7"),
    (10, 6702, 6714, "o1"), (10, 6720, 6760, "y6"), (10, 6774, 6836, "r5"), (10, 6977, 7026, "r3"), (10, 7068, 7072, "o5"), (10, 7105, 7125, "y5"),
    (10, 7134, 7282, "oa", "Prepa.."), (10, 7285, 7460, "y2", "Prepar.."), (10, 7530, 7544, "r7"), (10, 7578, 7598, "y5"),
    (11, 6320, 6583, "o2", "test_quick.."), (11, 6591, 6644, "o1"), (11, 6702, 6714, "y5"), (11, 6722, 6760, "y7"), (11, 6781, 6836, "o0"),
    (11, 6979, 7026, "y7"), (11, 7147, 7219, "o2"), (11, 7224, 7242, "y9"), (11, 7246, 7285, "o5"), (11, 7303, 7386, "o0", "I.."), (11, 7397, 7429, "o5"), (11, 7436, 7460, "y9"),
    (12, 6321, 6330, "o1"), (12, 6332, 6583, "y7", "get_mm_tree"), (12, 6591, 6644, "o4"), (12, 6700, 6712, "o9"), (12, 6750, 6760, "y5"), (12, 6768, 6780, "r7"),
    (12, 6784, 6836, "o1"), (12, 6988, 7023, "o8"), (12, 7155, 7217, "o8"), (12, 7252, 7267, "o5"), (12, 7325, 7383, "o6"), (12, 7403, 7429, "y5"), (12, 7443, 7460, "o5"),
    (13, 6332, 6583, "y9", "get_mm_tree"), (13, 6591, 6644, "ok"), (13, 6700, 6712, "y9"), (13, 6768, 6776, "y5"), (13, 6825, 6836, "r7"),
    (13, 7000, 7023, "o5"), (13, 7196, 7206, "y9"), (13, 7207, 7214, "r7"), (13, 7263, 7270, "y5"), (13, 7332, 7364, "r8"), (13, 7365, 7383, "r7"), (13, 7415, 7417, "r7"), (13, 7450, 7453, "r7"),
    (14, 6332, 6583, "o7", "get_full_.."), (14, 6588, 6644, "r2"), (14, 6702, 6712, "r7"), (14, 6745, 6746, "y5"), (14, 6772, 6775, "y8"), (14, 6834, 6836, "o8"), (14, 7334, 7361, "o1"),
    (15, 6332, 6577, "oa", "get_func_.."), (15, 6582, 6590, "r7"), (15, 6591, 6644, "y4"), (15, 6706, 6708, "o5"), (15, 6838, 6839, "y7"), (15, 7345, 7361, "o8"),
    (16, 6332, 6580, "y1", "get_mm_pa.."), (16, 6585, 6606, "r7"), (16, 6609, 6644, "r5"), (16, 6706, 6707, "y5"), (16, 7362, 7363, "o5"),
    (17, 6333, 6360, "o6"), (17, 6360, 6575, "p1", "get_mm_l.."), (17, 6576, 6582, "o5"), (17, 6592, 6606, "o1"), (17, 6608, 6644, "y5"),
    (18, 6333, 6360, "r4"), (18, 6407, 6415, "o6"), (18, 6416, 6437, "y8"), (18, 6441, 6449, "r6"), (18, 6450, 6495, "y5"), (18, 6495, 6504, "r7"),
    (18, 6505, 6542, "y1"), (18, 6542, 6558, "ob"), (18, 6558, 6575, "o6"), (18, 6576, 6582, "p1"), (18, 6605, 6606, "o8"), (18, 6628, 6632, "y7"), (18, 6634, 6644, "o9"),
    (19, 6333, 6360, "o6"), (19, 6409, 6415, "o5"), (19, 6421, 6435, "o7"), (19, 6455, 6495, "o8"), (19, 6522, 6528, "y7"), (19, 6529, 6542, "o9"), (19, 6556, 6557, "r7"), (19, 6569, 6575, "y5"),
    (19, 6576, 6582, "r2"), (19, 6641, 6644, "r7"),
    (20, 6333, 6360, "y8"), (20, 6431, 6435, "oa"), (20, 6463, 6467, "r5"), (20, 6468, 6475, "y7"), (20, 6476, 6495, "ob"), (20, 6576, 6582, "y7"),
    (21, 6333, 6350, "r6"), (21, 6351, 6360, "r8"), (21, 6492, 6494, "o5"), (21, 6576, 6581, "ob"),
    (22, 6341, 6350, "o8"), (22, 6353, 6357, "y7"), (22, 6576, 6581, "r4"), (23, 6349, 6350, "y5"), (23, 6580, 6581, "o8"),
]

label_boxes = {"#18ab1c": (1821, 3169, 15.55, 41.82), "#1a9bfa": (2565, 2997, 20.18, 40.78)}
watermark = "知乎 @雷鹏"

all_frames = base_frames + left_tower + terark_tower + rocks_tower + green_box_frames + middle_frames + right_frames

sns.set_theme(style="white")
plt.rcParams["font.family"] = ["DejaVu Sans", "Noto Sans CJK SC"]

fig = plt.figure(figsize=(76.56, 21.10), dpi=100)

# background gradient of the flame graph
bg_ax = fig.add_axes([0, 0, 1, 1])
gradient = np.linspace(0, 1, 256).reshape(-1, 1)
sns.heatmap(gradient, cmap=sns.blend_palette(["#efefef", "#eeeed4", "#eeeecb"], as_cmap=True),
            cbar=False, xticklabels=False, yticklabels=False, ax=bg_ax)

ax = fig.add_axes([0, 0, 1, 1])
ax.patch.set_alpha(0)
ax.set_xlim(0, 7656)
# one level is 48 px, level 0 is centred 37.5 px above the bottom edge
ax.set_ylim(-37.5 / 48, 2072.5 / 48)
ax.axis("off")

for level, start, stop, shade, *label in all_frames:
    width = stop - start
    box = FancyBboxPatch((start, level - 0.469), width, 0.938,
                         boxstyle="round,pad=0,rounding_size=%.2f" % min(6, width / 2),
                         mutation_aspect=1 / 48, fc=heat[shade], ec="none", lw=0)
    ax.add_patch(box)
    if label:
        ax.text(start + 9, level - 0.02, label[0], fontsize=27, color="black", va="center", ha="left")

for colour, (x0, x1, y0, y1) in label_boxes.items():
    ax.add_patch(FancyBboxPatch((x0, y0), x1 - x0, y1 - y0, boxstyle="round,pad=0,rounding_size=8",
                                mutation_aspect=1 / 48, fc="none", ec=colour, lw=13))

# tiny dark speck at the very top edge
ax.plot([3928, 3928], [43.0, 43.25], color="#222222", lw=3, solid_capstyle="butt")

ax.text(6264, 5.8, watermark, fontsize=170, color="#3a2810", alpha=0.5,
        family=["Noto Sans CJK SC", "DejaVu Sans"], va="center", ha="left",
        path_effects=[pe.withStroke(linewidth=3, foreground="#3a2810")])
ax.text(6250, 6.1, watermark, fontsize=170, color="white",
        family=["Noto Sans CJK SC", "DejaVu Sans"], va="center", ha="left",
        path_effects=[pe.withStroke(linewidth=3, foreground="white")])

fig.savefig("out.png", dpi=100)
